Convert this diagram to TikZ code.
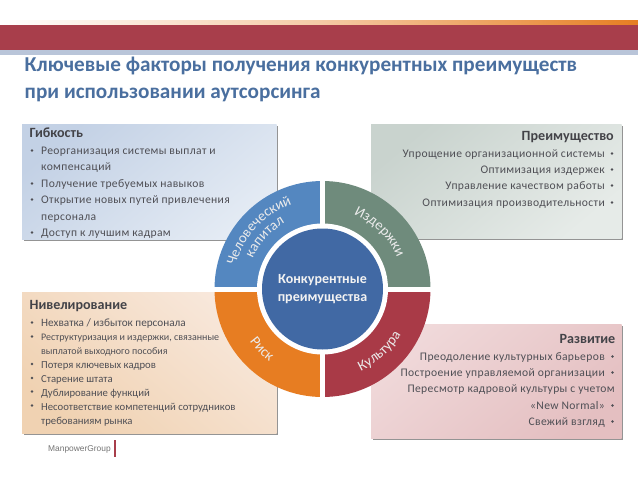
\documentclass[tikz,border=0pt]{standalone}
\usepackage{fontspec}
\setmainfont{Carlito}
\newfontfamily\footfont{Liberation Sans}
\usetikzlibrary{decorations.text}
\definecolor{bandred}{HTML}{A83E4B}
\definecolor{bandgrey}{HTML}{B9C5D9}
\definecolor{bandorange}{HTML}{E67E22}
\definecolor{titleblue}{HTML}{4A6F9F}
\definecolor{bodygrey}{HTML}{4F4F55}
\definecolor{wblue}{HTML}{5487C0}
\definecolor{wgreen}{HTML}{6F8B7C}
\definecolor{worange}{HTML}{E77D22}
\definecolor{wred}{HTML}{A93A47}
\definecolor{wcentre}{HTML}{4169A4}
\definecolor{pblueA}{HTML}{C3D1E5}
\definecolor{pblueB}{HTML}{E4EBF4}
\definecolor{pgreenA}{HTML}{C9D3CE}
\definecolor{pgreenB}{HTML}{E6EBE8}
\definecolor{porangeA}{HTML}{F8E8DC}
\definecolor{porangeB}{HTML}{F0D2B2}
\definecolor{predA}{HTML}{F0D9DA}
\definecolor{predB}{HTML}{E4BFC1}
\newcommand{\wf}{\fontsize{14.5}{14.5}\selectfont\color{white!92!black}}
\tikzset{
  titletext/.style={anchor=base west,inner sep=0pt,text=titleblue,font=\fontsize{21.2}{21.2}\selectfont\bfseries},
  headtext/.style={inner sep=0pt,text=bodygrey!85!black,font=\fontsize{14.1}{14.1}\selectfont\bfseries},
  line/.style={inner sep=0pt,text=bodygrey,font=\fontsize{11.6}{11.6}\selectfont\addfontfeature{LetterSpace=3}},
  lineright/.style={line,anchor=base east},
  lineleft/.style={line,anchor=base west},
  smallleft/.style={inner sep=0pt,text=bodygrey,anchor=base west,font=\fontsize{10.7}{10.7}\selectfont},
  bullet/.style={circle,fill=bodygrey,inner sep=0pt,minimum size=2.8pt},
  panelshadow/.style={fill=black!42,draw=none},
  wedgetext/.style={decoration={text along path,text align=center,raise=0pt},postaction={decorate}},
}
\begin{document}
\begin{tikzpicture}[x=1pt,y=-1pt]
\path[use as bounding box] (0,0) rectangle (638,479);
% header band
\shade[left color=white,right color=bandorange,middle color=bandorange!40] (0,20) rectangle (638,25);
\fill[bandred] (0,25) rectangle (638,50);
\fill[bandgrey] (0,50) rectangle (638,55);
% title
\node[titletext] (title1) at (24.5,71) {Ключевые факторы получения конкурентных преимуществ};
\node[titletext] (title2) at (24.5,98) {при использовании аутсорсинга};
% panels
\fill[panelshadow] (23.5,125.5) rectangle (278,241);
\shade[top color=pblueA,bottom color=pblueB,shading angle=40] (22,124) rectangle (276.5,239.5);
\fill[panelshadow] (372.5,125.5) rectangle (623,240);
\shade[top color=pgreenA,bottom color=pgreenB,shading angle=40] (371,124) rectangle (621.5,238.5);
\fill[panelshadow] (23.5,293.5) rectangle (278,434.5);
\shade[top color=porangeA,bottom color=porangeB,shading angle=-40] (22,292) rectangle (276.5,433);
\fill[panelshadow] (372.5,325.5) rectangle (623,439.5);
\shade[top color=predA,bottom color=predB,shading angle=40] (371,324) rectangle (621.5,438);
% panel 1
\node[headtext,anchor=base west] (h1) at (29.5,137) {Гибкость};
\foreach \n/\yy/\tt in {a/154/Реорганизация системы выплат и,b/170/компенсаций,c/187/Получение требуемых навыков,d/203/Открытие новых путей привлечения,e/220/персонала,f/236/Доступ к лучшим кадрам}
  {\node[lineleft] (p1\n) at (41,\yy) {\tt};}
\foreach \n/\yy in {a/150.5,c/183.5,d/199.5,f/232.5}
  {\node[bullet] (b1\n) at (32,\yy) {};}
% panel 2
\node[headtext,anchor=base east] (h2) at (614,140) {Преимущество};
\foreach \n/\yy/\tt in {a/157/Упрощение организационной системы,b/173/Оптимизация издержек,c/189/Управление качеством работы,d/206/Оптимизация производительности}
  {\node[lineright] (p2\n) at (605,\yy) {\tt};
   \node[bullet] (b2\n) at (612,\yy-3.5) {};}
% panel 3
\node[headtext,anchor=base west] (h3) at (29.5,309) {Нивелирование};
\node[smallleft,font=\fontsize{11.2}{11.2}\selectfont] (p3a) at (41,326) {Нехватка / избыток персонала};
\node[smallleft,font=\fontsize{10}{10}\selectfont] (p3b) at (41,340) {Реструктуризация и издержки, связанные};
\node[smallleft,font=\fontsize{10}{10}\selectfont] (p3c) at (41,354) {выплатой выходного пособия};
\node[smallleft] (p3d) at (41,368) {Потеря ключевых кадров};
\node[smallleft] (p3e) at (41,382) {Старение штата};
\node[smallleft] (p3f) at (41,396) {Дублирование функций};
\node[smallleft] (p3g) at (41,410) {Несоответствие компетенций сотрудников};
\node[smallleft] (p3h) at (41,424) {требованиям рынка};
\foreach \n/\yy in {a/322.5,b/336.5,d/364,e/378,f/391.5,g/405.5}
  {\node[bullet] (b3\n) at (32,\yy) {};}
% panel 4
\node[headtext,anchor=base east] (h4) at (615.5,343) {Развитие};
\node[lineright] (p4a) at (605,360) {Преодоление культурных барьеров};
\node[bullet] (b4a) at (612.5,356.5) {};
\node[lineright] (p4b) at (605,376) {Построение управляемой организации};
\node[bullet] (b4b) at (612.5,372.5) {};
\node[lineright] (p4c) at (615,392) {Пересмотр кадровой культуры с учетом};
\node[lineright] (p4d) at (605,409) {«New Normal»};
\node[bullet] (b4d) at (612.5,405.5) {};
\node[lineright] (p4e) at (605,425) {Свежий взгляд};
\node[bullet] (b4e) at (612.5,421.5) {};
% wheel
\begin{scope}[shift={(322.5,289)},y=1pt]
  \fill[wblue]   (0,0) -- (-108,0) arc[start angle=180,end angle=90,radius=108] -- cycle;
  \fill[wgreen]  (0,0) -- (0,108) arc[start angle=90,end angle=0,radius=108] -- cycle;
  \fill[wred]    (0,0) -- (108,0) arc[start angle=0,end angle=-90,radius=108] -- cycle;
  \fill[worange] (0,0) -- (0,-108) arc[start angle=-90,end angle=-180,radius=108] -- cycle;
  \fill[white] (-2.2,-109) rectangle (2.2,109);
  \fill[white] (-109,-2.5) rectangle (109,2.5);
  \fill[white] (0,0) circle[radius=65.5];
  \fill[wcentre] (0,0) circle[radius=60.5];
  \path[wedgetext,decoration={text={|\wf|Человеческий}}] (182.5:90) arc[start angle=182.5,end angle=92.5,radius=90];
  \path[wedgetext,decoration={text={|\wf|капитал}}] (183:76) arc[start angle=183,end angle=93,radius=76];
  \path[wedgetext,decoration={text={|\wf|Издержки}}] (90:81) arc[start angle=90,end angle=0,radius=81];
  \path[wedgetext,decoration={text={|\wf|Риск}}] (180:90) arc[start angle=180,end angle=270,radius=90];
  \path[wedgetext,decoration={text={|\wf|Культура}}] (267.5:90.5) arc[start angle=267.5,end angle=357.5,radius=90.5];
\end{scope}
\node[inner sep=0pt,align=center,text=white!95!black,font=\fontsize{14}{17.5}\selectfont\bfseries] (centre) at (322.5,289) {Конкурентные\\преимущества};
% footer
\node[inner sep=0pt,anchor=base west,text=black!55,font=\footfont\fontsize{8.4}{8.4}\selectfont] (foot) at (48,451) {ManpowerGroup};
\fill[bandred] (113.5,440) rectangle (115.7,457);
\end{tikzpicture}
\end{document}
